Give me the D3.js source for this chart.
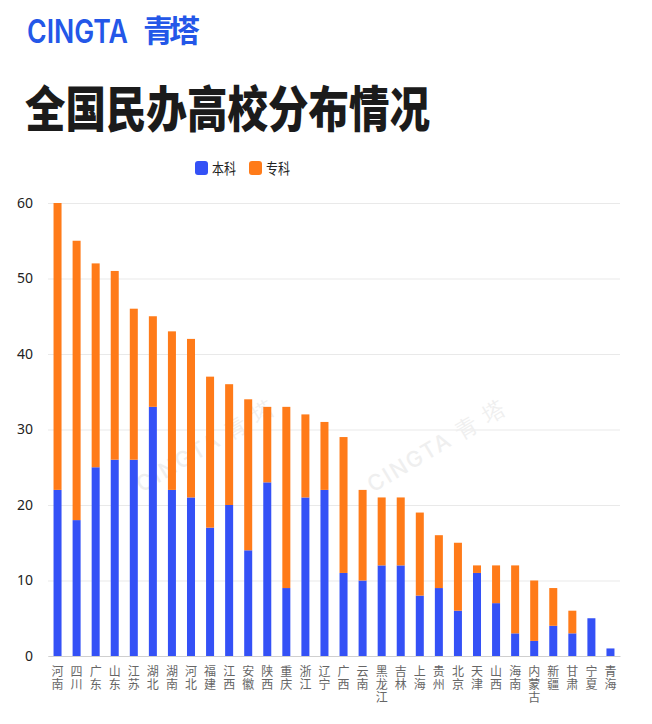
<!DOCTYPE html>
<html lang="zh">
<head>
<meta charset="UTF-8">
<title>全国民办高校分布情况</title>
<script src="https://d3js.org/d3.v7.min.js"></script>
<style>
  html, body { margin: 0; padding: 0; background: #fff; }
  svg { display: block; }
</style>
</head>
<body>
<div id="chart"></div>
<script>
// data
const provinces = ["河南", "四川", "广东", "山东", "江苏", "湖北", "湖南", "河北", "福建", "江西",
  "安徽", "陕西", "重庆", "浙江", "辽宁", "广西", "云南", "黑龙江", "吉林", "上海",
  "贵州", "北京", "天津", "山西", "海南", "内蒙古", "新疆", "甘肃", "宁夏", "青海"];
const benke = [22, 18, 25, 26, 26, 33, 22, 21, 17, 20, 14, 23, 9, 21, 22, 11, 10, 12, 12, 8, 9, 6, 11, 7, 3, 2, 4, 3, 5, 1];
const zhuanke = [38, 37, 27, 25, 20, 12, 21, 21, 20, 16, 20, 10, 24, 11, 9, 18, 12, 9, 9, 11, 7, 9, 1, 5, 9, 8, 5, 3, 0, 0];
const yTicks = [0, 10, 20, 30, 40, 50, 60];
const seriesNames = ["本科", "专科"];
const colors = ["#3451F6", "#FF7B19"];

const W = 652, H = 724;
const plotL = 48, plotR = 620, plotT = 203, plotB = 656;
const cjk = "'Noto Sans CJK SC', 'Noto Sans', sans-serif";

const svg = d3.select("#chart").append("svg")
  .attr("width", W)
  .attr("height", H);

// logo + title
svg.append("text")
  .attr("x", 27).attr("y", 43)
  .attr("font-family", "Inter, 'Noto Sans', sans-serif")
  .attr("font-weight", 600)
  .attr("font-size", 32)
  .attr("fill", "#2457E8")
  .attr("textLength", 101)
  .attr("lengthAdjust", "spacingAndGlyphs")
  .text("CINGTA");
svg.append("text")
  .attr("x", 143).attr("y", 42)
  .attr("font-family", cjk)
  .attr("font-weight", 700)
  .attr("font-size", 31)
  .attr("fill", "#2457E8")
  .attr("textLength", 57)
  .attr("lengthAdjust", "spacing")
  .text("青塔");

svg.append("text")
  .attr("x", 25).attr("y", 127)
  .attr("font-family", cjk)
  .attr("font-weight", 900)
  .attr("font-size", 49)
  .attr("fill", "#1b1b1b")
  .attr("textLength", 405)
  .attr("lengthAdjust", "spacingAndGlyphs")
  .text("全国民办高校分布情况");

// legend
const legend = svg.append("g");
const legendX = [195, 249];
seriesNames.forEach((name, i) => {
  legend.append("rect")
    .attr("x", legendX[i]).attr("y", 161)
    .attr("width", 13).attr("height", 14)
    .attr("rx", 3)
    .attr("fill", colors[i]);
  legend.append("text")
    .attr("x", legendX[i] + 17).attr("y", 174)
    .attr("font-family", cjk)
    .attr("font-size", 15)
    .attr("fill", "#222")
    .attr("textLength", 24)
    .attr("lengthAdjust", "spacingAndGlyphs")
    .text(name);
});

// scales
const x = d3.scaleBand()
  .domain(provinces)
  .range([plotL, plotR])
  .paddingInner(0.58)
  .paddingOuter(0.29);

const y = d3.scaleLinear()
  .domain([0, 60])
  .range([plotB, plotT]);

// grid + y axis
const yAxis = svg.append("g")
  .attr("transform", `translate(${plotL},0)`)
  .call(d3.axisLeft(y).tickValues(yTicks).tickSize(-(plotR - plotL)).tickPadding(15));
yAxis.select(".domain").remove();
yAxis.selectAll(".tick line").attr("stroke", "#e9e9e9").attr("stroke-width", 1);
yAxis.selectAll(".tick text")
  .attr("font-family", "'Noto Sans', sans-serif")
  .attr("font-size", 14)
  .attr("fill", "#222");

// watermark
const wm = svg.append("g").attr("pointer-events", "none");
[[142, 493], [373, 493]].forEach(([wx, wy]) => {
  wm.append("text")
    .attr("transform", `translate(${wx},${wy}) rotate(-31)`)
    .attr("font-family", "Inter, 'Noto Sans', sans-serif")
    .attr("font-size", 22)
    .attr("font-weight", 500)
    .attr("fill", "#efefef")
    .attr("letter-spacing", 2)
    .text("CINGTA  青 塔");
});

// stacked bars
const rows = provinces.map((p, i) => ({ province: p, 本科: benke[i], 专科: zhuanke[i] }));
const stack = d3.stack().keys(seriesNames)(rows);

svg.append("g")
  .selectAll("g")
  .data(stack)
  .join("g")
  .attr("fill", (d, i) => colors[i])
  .selectAll("rect")
  .data(d => d)
  .join("rect")
  .attr("x", d => x(d.data.province))
  .attr("y", d => y(d[1]))
  .attr("width", x.bandwidth())
  .attr("height", d => y(d[0]) - y(d[1]));

// x axis
const xAxis = svg.append("g")
  .attr("transform", `translate(0,${plotB})`)
  .call(d3.axisBottom(x).tickSize(0).tickFormat(""));
xAxis.select(".domain").attr("stroke", "#cfcfcf");

// vertical province labels, one character per line
const labels = svg.append("g")
  .selectAll("text")
  .data(provinces)
  .join("text")
  .attr("font-family", cjk)
  .attr("font-size", 12)
  .attr("fill", "#666")
  .attr("text-anchor", "middle");
labels.selectAll("tspan")
  .data(d => Array.from(d).map(c => ({ c, p: d })))
  .join("tspan")
  .attr("x", d => x(d.p) + x.bandwidth() / 2)
  .attr("y", (d, i) => 676 + i * 13)
  .text(d => d.c);
</script>
</body>
</html>
